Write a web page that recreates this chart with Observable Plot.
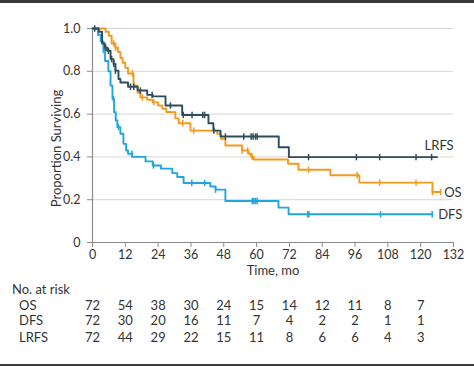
<!DOCTYPE html>
<html><head><meta charset="utf-8">
<script src="https://cdn.jsdelivr.net/npm/d3@7"></script>
<script src="https://cdn.jsdelivr.net/npm/@observablehq/plot@0.6"></script>
<style>
body{margin:0;background:#fff;}
#wrap{position:relative;width:474px;height:366px;overflow:hidden;background:#fff;}
#wrap svg{position:absolute;left:0;top:0;}
.bar{position:absolute;left:0;width:474px;background:#3a3a3a;z-index:2;}
</style></head><body>
<div id="wrap"><div class="bar" style="top:0;height:3px"></div><div class="bar" style="top:364px;height:2px"></div></div>
<script>
// ---- data ----
const osTimes   = [0, 4.8, 6, 7, 8.4, 9.3, 10.2, 11, 12, 13, 15, 16.5, 17.5, 20, 22, 24, 25.5, 27, 28.5, 30.3, 31.5, 35.8, 45.6, 47, 48.6, 54.7, 57, 58, 59, 71.5, 75.3, 87, 97.6, 124.3, 127.3];
const osValues  = [1.0, 0.985, 0.966, 0.93, 0.91, 0.89, 0.862, 0.84, 0.816, 0.79, 0.733, 0.70, 0.678, 0.667, 0.655, 0.64, 0.625, 0.61, 0.609, 0.58, 0.557, 0.523, 0.508, 0.484, 0.453, 0.43, 0.415, 0.40, 0.388, 0.368, 0.340, 0.314, 0.28, 0.236, 0.236];
const osCensor  = [7.8, 8.4, 14.6, 18.2, 22.4, 33, 37, 54.7, 56.7, 58.4, 79, 96.8, 105, 118.3, 124.3, 127.3];

const dfsTimes  = [0, 2, 3, 4, 4.6, 5.8, 6.6, 7.3, 7.9, 8.5, 9.1, 10.2, 11.3, 12.3, 13, 14.5, 19.4, 22, 25, 29.2, 31, 33.3, 43.1, 45, 48.6, 68, 71.7, 124.2];
const dfsValues = [1.0, 0.97, 0.94, 0.9, 0.848, 0.80, 0.733, 0.67, 0.609, 0.57, 0.539, 0.508, 0.461, 0.43, 0.415, 0.40, 0.379, 0.36, 0.345, 0.324, 0.306, 0.278, 0.262, 0.247, 0.194, 0.163, 0.132, 0.132];
const dfsCensor = [4, 7.7, 9.5, 14.4, 22.3, 36.3, 41, 45, 58.4, 59, 59.6, 60.2, 78.7, 79.1, 105.3, 124.2];

const lrfsTimes  = [0, 2.3, 3.5, 4.5, 5.4, 6.6, 7.7, 8.4, 9.5, 10.2, 13, 16.5, 20, 22, 26.7, 32.8, 42.4, 44.2, 46.8, 68.1, 71.8, 126];
const lrfsValues = [1.0, 0.985, 0.93, 0.91, 0.896, 0.857, 0.834, 0.803, 0.764, 0.748, 0.728, 0.71, 0.69, 0.683, 0.64, 0.596, 0.557, 0.523, 0.495, 0.445, 0.399, 0.399];
const lrfsCensor = [0.8, 4.8, 5.8, 7, 7.8, 8.4, 13.9, 15.1, 17.5, 21.8, 28.5, 33.2, 36.4, 40.3, 41, 44.4, 48.6, 55.3, 58, 58.7, 59.6, 60.2, 79, 96.5, 105, 118.3, 124];

const seriesNames = ["OS", "DFS", "LRFS"];
const seriesColors = ["#f39a1e", "#1fa5df", "#2c4d5b"];

const xTicks = [0, 12, 24, 36, 48, 60, 72, 84, 96, 108, 120, 132];
const yTicks = [0, 0.2, 0.4, 0.6, 0.8, 1.0];

const riskTimes = [0, 12, 24, 36, 48, 60, 72, 84, 96, 108, 120];
const riskOS   = [72, 54, 38, 30, 24, 15, 14, 12, 11, 8, 7];
const riskDFS  = [72, 30, 20, 16, 11, 7, 4, 2, 2, 1, 1];
const riskLRFS = [72, 44, 29, 22, 15, 11, 8, 6, 6, 4, 3];

// ---- build tables ----
function curve(name, times, values) { return times.map((t, i) => ({name, t, v: values[i]})); }
function stepAt(times, values, t) { let v = values[0]; for (let i = 0; i < times.length; i++) if (times[i] <= t) v = values[i]; return v; }
function censors(name, times, values, cs) { return cs.map(t => ({name, t, v: stepAt(times, values, t)})); }

const osCurve = curve("OS", osTimes, osValues);
const dfsCurve = curve("DFS", dfsTimes, dfsValues);
const lrfsCurve = curve("LRFS", lrfsTimes, lrfsValues);
const osC = censors("OS", osTimes, osValues, osCensor);
const dfsC = censors("DFS", dfsTimes, dfsValues, dfsCensor);
const lrfsC = censors("LRFS", lrfsTimes, lrfsValues, lrfsCensor);
const ends = [osCurve, dfsCurve, lrfsCurve].map(c => c[c.length - 1]);

const riskRows = [["OS", riskOS], ["DFS", riskDFS], ["LRFS", riskLRFS]];
const risk = riskRows.flatMap(([name, vals], r) => vals.map((n, i) => ({name, row: r, t: riskTimes[i], n})));

const vtick = {draw(ctx, size) { const h = Math.sqrt(size / Math.PI); ctx.moveTo(0, -h); ctx.lineTo(0, h); }};
const font = "Lato, 'Open Sans', sans-serif";
const txt = "#333";
const rowDy = [67, 82.5, 99];

const lineOpts = {x: "t", y: "v", curve: "step-after", strokeWidth: 1.9};
const dotOpts = {x: "t", y: "v", symbol: vtick, r: 3.2, strokeWidth: 1.5, fill: "none"};

const plot = Plot.plot({
  width: 474, height: 366,
  marginLeft: 92, marginRight: 21, marginTop: 28, marginBottom: 124,
  style: {fontFamily: font, fontSize: "12px", color: txt, background: "transparent", overflow: "visible"},
  x: {domain: [0, 132], ticks: xTicks, label: null},
  y: {domain: [0, 1], ticks: yTicks, label: null},
  marks: [
    Plot.gridY(yTicks.filter(d => d > 0), {stroke: "#d6d6d6", strokeOpacity: 1, strokeWidth: 1}),
    Plot.ruleX([0], {stroke: "#8a8a8a", strokeWidth: 1.2}),
    Plot.ruleY([0], {stroke: "#8a8a8a", strokeWidth: 1.2}),
    Plot.axisY({ticks: yTicks, tickSize: 5, tickPadding: 7, stroke: "#8a8a8a", fill: txt, fontSize: 12.5,
      tickFormat: d => d === 0 ? "0" : d.toFixed(1), label: null}),
    Plot.axisX({ticks: xTicks, tickSize: 5, tickPadding: 3, stroke: "#8a8a8a", fill: txt, fontSize: 12.5, label: null}),
    Plot.line(osCurve, {...lineOpts, stroke: seriesColors[0]}),
    Plot.dot(osC, {...dotOpts, stroke: seriesColors[0]}),
    Plot.line(dfsCurve, {...lineOpts, stroke: seriesColors[1]}),
    Plot.dot(dfsC, {...dotOpts, stroke: seriesColors[1]}),
    Plot.line(lrfsCurve, {...lineOpts, stroke: seriesColors[2]}),
    Plot.dot(lrfsC, {...dotOpts, stroke: seriesColors[2]}),
    // end labels
    Plot.text(ends.filter(d => d.name === "LRFS"), {x: "t", y: "v", text: "name", textAnchor: "end", dx: 16.5, dy: -11.5, fill: txt, fontSize: 13}),
    Plot.text(ends.filter(d => d.name === "OS"), {x: "t", y: "v", text: "name", textAnchor: "start", dx: 3.5, dy: 1.2, fill: txt, fontSize: 13}),
    Plot.text(ends.filter(d => d.name === "DFS"), {x: "t", y: "v", text: "name", textAnchor: "start", dx: 6, dy: 0.5, fill: txt, fontSize: 13}),
    // axis titles
    Plot.text(["Time, mo"], {frameAnchor: "bottom", dy: 32, fill: txt, fontSize: 13}),
    Plot.text(["Proportion Surviving"], {frameAnchor: "left", textAnchor: "middle", dx: -36, dy: 13, rotate: -90, fill: txt, fontSize: 13}),
    // risk table
    Plot.text(["No. at risk"], {frameAnchor: "bottom-left", dx: -80.5, dy: 51, textAnchor: "start", fill: txt, fontSize: 13}),
    ...riskRows.map(([name], r) => Plot.text([name], {frameAnchor: "bottom-left", dx: -73.5, dy: rowDy[r], textAnchor: "start", fill: txt, fontSize: 13})),
    ...riskRows.map(([name], r) => Plot.text(risk.filter(d => d.row === r), {x: "t", frameAnchor: "bottom", dy: rowDy[r], text: d => String(d.n), fill: txt, fontSize: 13}))
  ]
});
document.getElementById("wrap").appendChild(plot);
</script>
</body></html>
